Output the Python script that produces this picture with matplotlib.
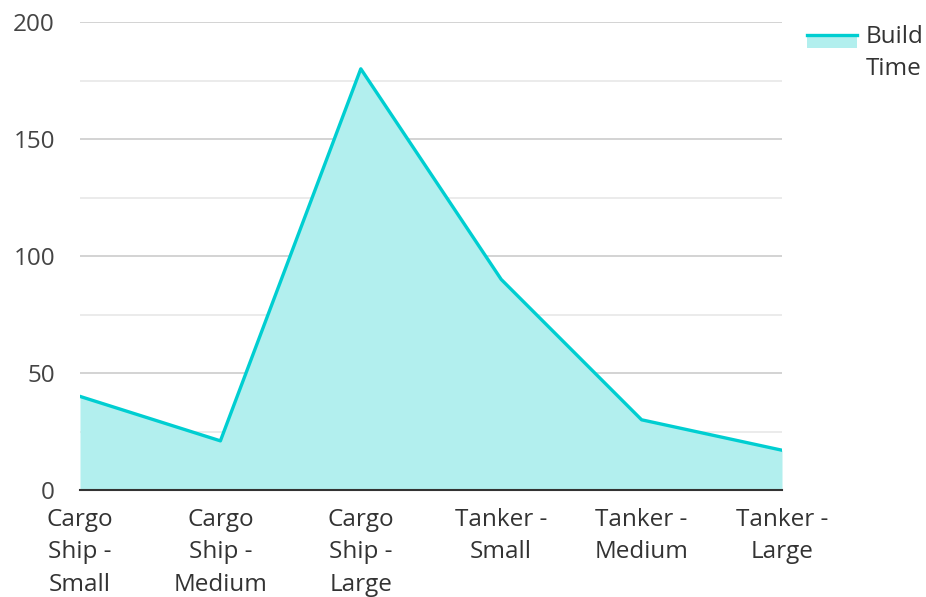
import matplotlib.pyplot as plt
from matplotlib.patches import Rectangle
from matplotlib.lines import Line2D

plt.rcParams['font.family'] = ['Open Sans', 'DejaVu Sans']

categories = ["Cargo\nShip -\nSmall", "Cargo\nShip -\nMedium", "Cargo\nShip -\nLarge",
              "Tanker -\nSmall", "Tanker -\nMedium", "Tanker -\nLarge"]
build_time = [40, 21, 180, 90, 30, 17]

line_color = '#00ced1'
fill_color = '#b2efee'
fs = 17.5

fig = plt.figure(figsize=(9.26, 5.97), dpi=100)
W, H = 926, 597
ax = fig.add_axes([80 / W, 1 - 490 / H, 702 / W, 468 / H])

x = list(range(len(categories)))
ax.fill_between(x, build_time, 0, color=fill_color, lw=0, zorder=2)
ax.plot(x, build_time, color=line_color, lw=2.4, zorder=3)

ax.set_xlim(0, len(categories) - 1)
ax.set_ylim(0, 200)
ax.set_yticks([0, 50, 100, 150, 200])
ax.set_yticks([25, 75, 125, 175], minor=True)
ax.grid(which='major', axis='y', color='#c8c8c8', lw=1.1, zorder=1)
ax.grid(which='minor', axis='y', color='#e6e6e6', lw=1.1, zorder=1)
ax.set_xticks(x)
ax.set_xticklabels(categories, fontsize=fs, color='#333333', linespacing=1.46, va='top')
ax.tick_params(axis='y', length=0, pad=18, labelsize=fs, labelcolor='#444444')
ax.tick_params(axis='x', length=0, pad=13)
ax.tick_params(which='minor', length=0)
for s in ['top', 'right', 'left']:
    ax.spines[s].set_visible(False)
ax.spines['bottom'].set_color('#333333')
ax.spines['bottom'].set_linewidth(1.5)
ax.spines['bottom'].set_zorder(4)

# legend swatch: filled box with the line along its top edge
fig.patches.append(Rectangle((807 / W, 1 - 48 / H), 50 / W, 14 / H,
                             transform=fig.transFigure, facecolor=fill_color, lw=0))
fig.lines.append(Line2D([807 / W, 857 / W], [1 - 35 / H, 1 - 35 / H],
                        transform=fig.transFigure, color=line_color, lw=2.4))
fig.text(866 / W, 1 - 25 / H, "Build\nTime", fontsize=fs, color='#333333',
         va='top', ha='left', linespacing=1.46, transform=fig.transFigure)

fig.savefig('out.png', dpi=100)
